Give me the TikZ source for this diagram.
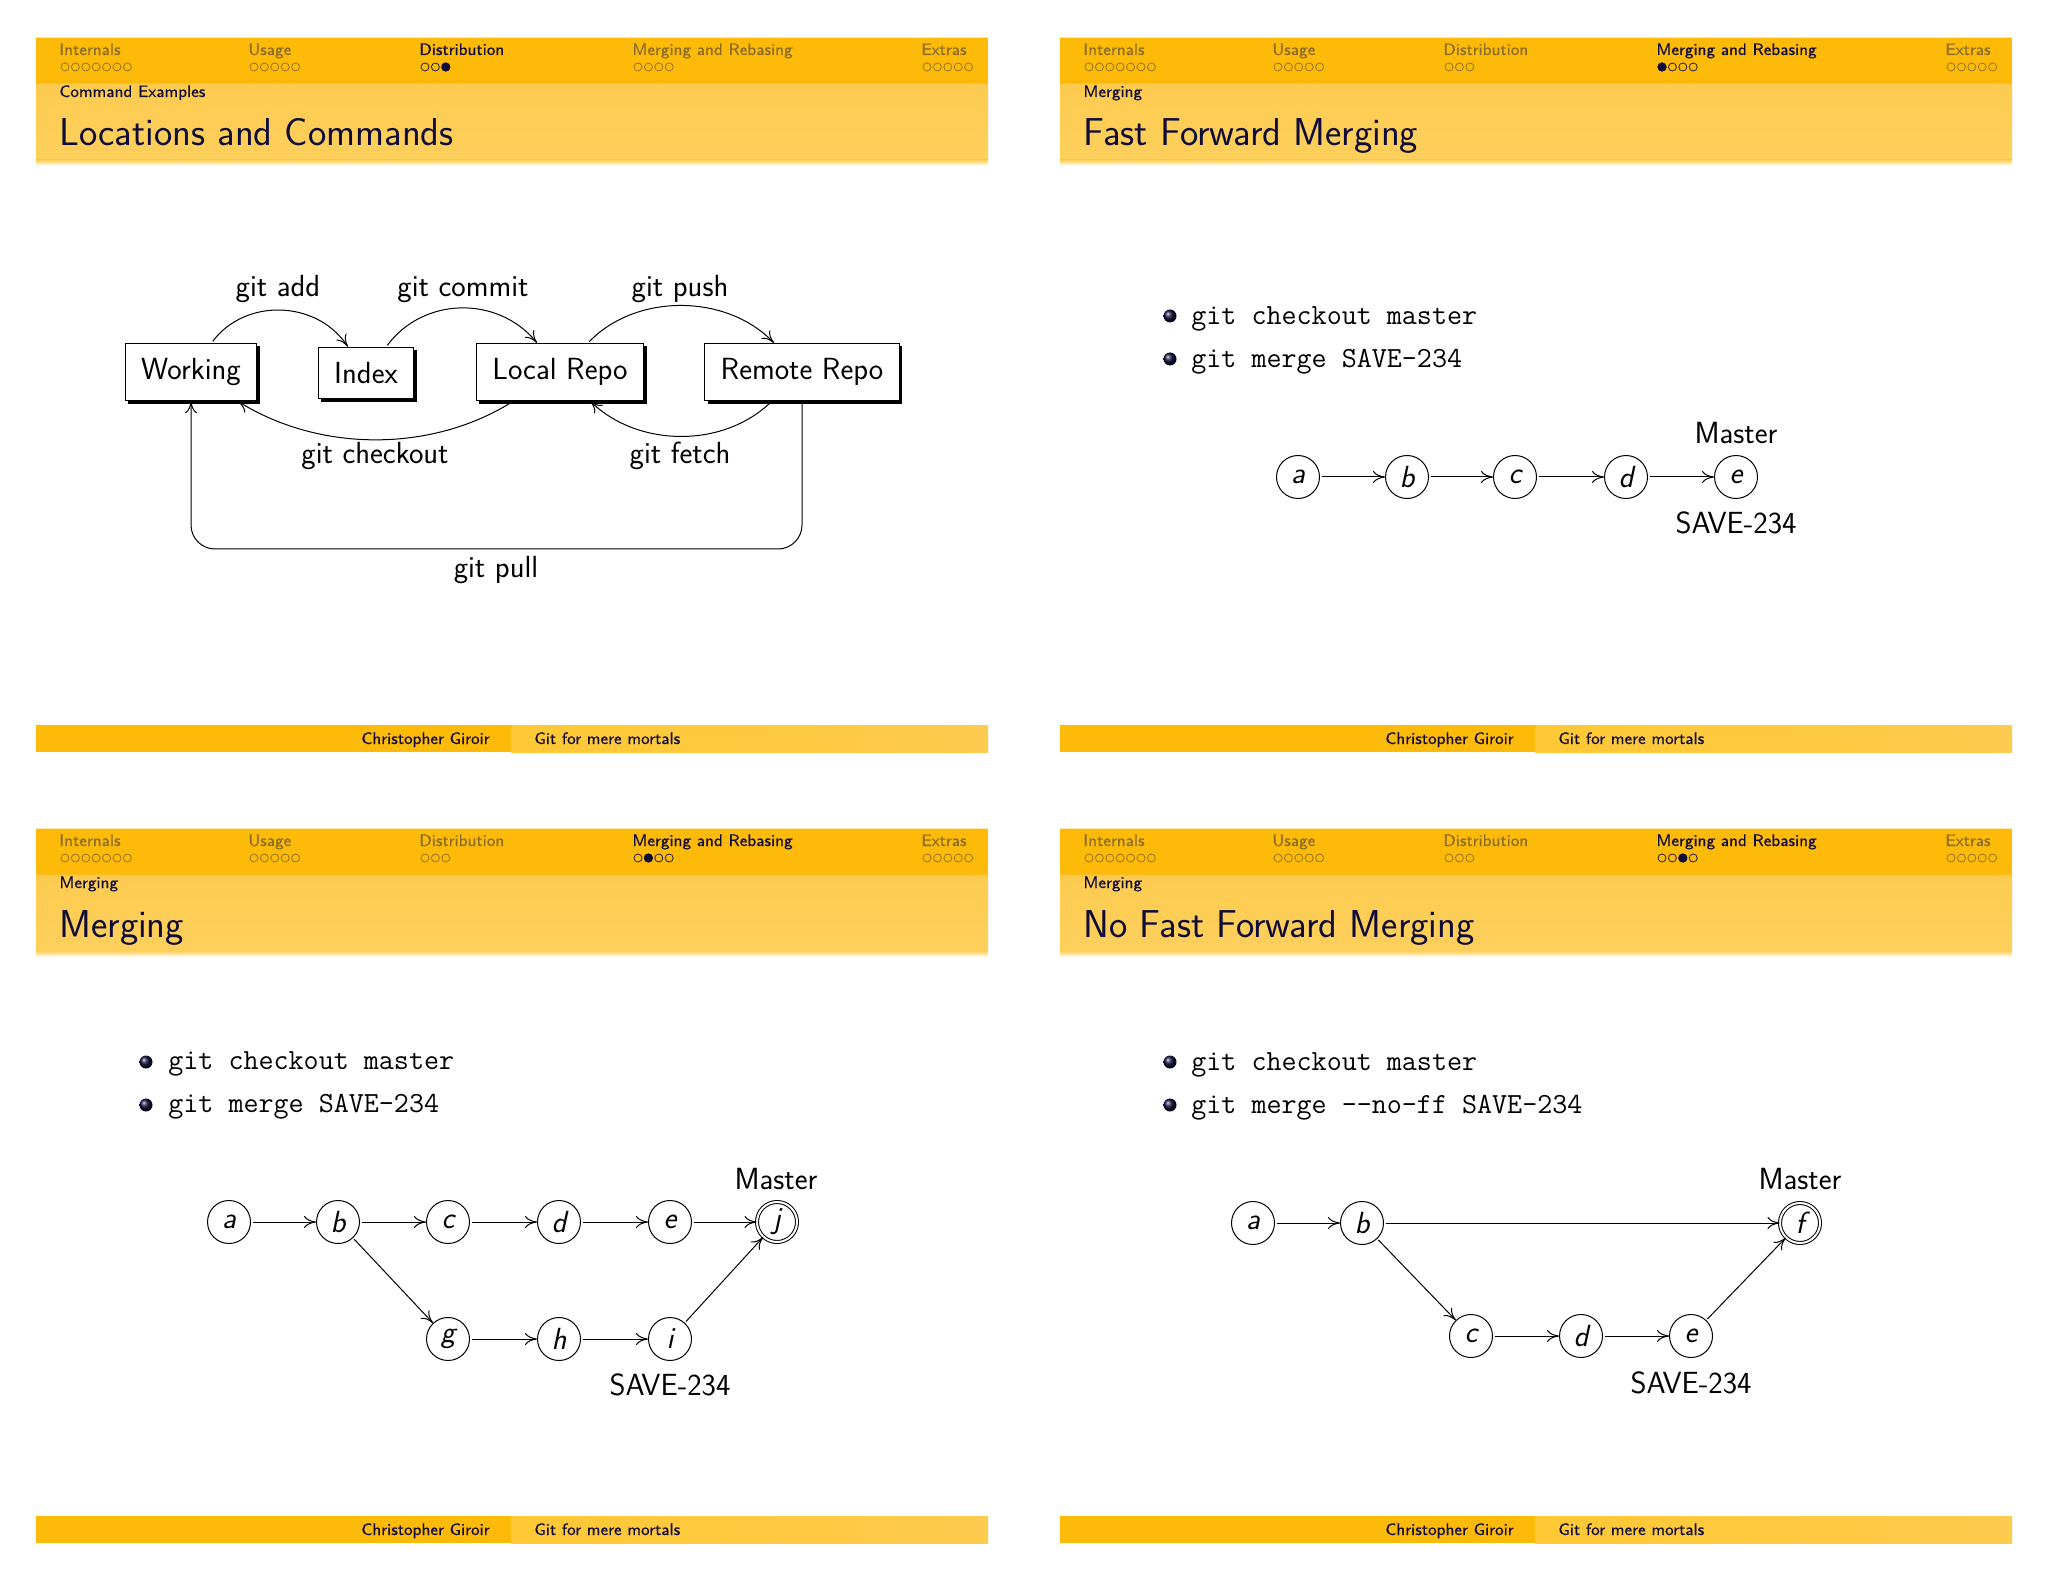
\documentclass[tikz,border=0pt]{standalone}
\usepackage{fontspec}
\usepackage{tikz}
\usetikzlibrary{shadows,arrows.meta}

\setsansfont{Latin Modern Sans}
\setmonofont{Latin Modern Mono}
\newfontfamily\headfont[FakeBold=0.2]{Latin Modern Sans}

\definecolor{bardark}{RGB}{253,186,8}
\definecolor{barmid}{RGB}{253,203,80}
\definecolor{barlight}{RGB}{253,208,92}
\definecolor{footlight}{RGB}{255,200,52}
\definecolor{framenavy}{RGB}{15,12,58}
\definecolor{fadedtext}{RGB}{138,110,40}

\tikzset{
  >={Computer Modern Rightarrow[length=6pt, width=6pt]},
  headtext/.style = {anchor=base west, inner sep=0pt, xscale=0.975, transform shape, font=\fontsize{8.3}{10}\headfont\selectfont},
  titletext/.style = {anchor=base west, inner sep=0pt, text=framenavy, font=\fontsize{19.45}{22}\sffamily\selectfont},
  biglabel/.style = {anchor=base, inner sep=0pt, font=\fontsize{15.3}{18}\sffamily\selectfont},
  location/.style = {draw, fill=white, inner xsep=8pt, inner ysep=7.5pt, line width=0.6pt, font=\fontsize{15.3}{18}\sffamily\selectfont,
    drop shadow={shadow xshift=1.5pt, shadow yshift=-1.5pt, opacity=1, fill=black}},
  commit/.style = {draw, circle, minimum size=21.5pt, inner sep=0pt, line width=0.5pt, font=\fontsize{15.3}{18}\sffamily\slshape\selectfont},
  mergecommit/.style = {commit, double, double distance=1pt, minimum size=20pt},
  command/.style = {anchor=base west, inner sep=0pt, font=\fontsize{14.6}{17}\ttfamily\selectfont},
  bulletball/.style = {circle, minimum size=6.5pt, inner sep=0pt, ball color=framenavy},
  flow/.style = {->, line width=0.5pt, shorten <=0.8pt}
}

% prefix, x shift, y shift, active section, active dot, subsection, title
\newcommand{\slideframe}[7]{
  \begin{scope}[shift={(#2,#3)}, name prefix=#1]
    \shade[top color=white, bottom color=barlight] (36,36) rectangle (988,38);
    \fill[bardark] (36,38) rectangle (988,82);
    \shade[top color=bardark, bottom color=barmid] (36,82) rectangle (988,85);
    \shade[top color=barmid, bottom color=barlight] (36,85) rectangle (988,160);
    \shade[top color=barlight, bottom color=white] (36,160) rectangle (988,166);
    \foreach \secx/\secname/\secdots [count=\secno] in {59/Internals/7,248/Usage/5,419/Distribution/3,632/{Merging and Rebasing}/4,921/Extras/5} {
      \ifnum\secno=#4 \def\seccol{framenavy}\else\def\seccol{fadedtext}\fi
      \node[headtext, text=\seccol] (sec\secno) at (\secx,55) {\secname};
      \foreach \dotno in {1,...,\secdots} {
        \draw[\seccol, line width=0.35pt] ({\secx+6+10.4*(\dotno-1)},67) circle (2pt);
        \ifnum\secno=#4 \ifnum\dotno=#5
          \fill[framenavy] ({\secx+6+10.4*(\dotno-1)},67) circle (2.3pt);
        \fi\fi
      }
    }
    \node[headtext, text=framenavy] (subsection) at (59,97) {#6};
    \node[titletext] (title) at (59,146) {#7};
    \fill[bardark] (36,725) rectangle (511,752);
    \shade[left color=footlight, right color=barmid!90!footlight] (511,725) rectangle (988,752);
    \node[headtext, anchor=base east, text=framenavy] (author) at (490,744) {Christopher Giroir};
    \node[headtext, text=framenavy] (talk) at (534,744) {Git for mere mortals};
  \end{scope}
}

\begin{document}
\begin{tikzpicture}[x=0.5pt, y=-0.5pt]
\useasboundingbox (0,0) rectangle (2048,1582);
\fill[white] (0,0) rectangle (2048,1582);

\slideframe{one-}{0}{0}{3}{3}{Command Examples}{Locations and Commands}
\slideframe{two-}{1024}{0}{4}{1}{Merging}{Fast Forward Merging}
\slideframe{three-}{0}{791}{4}{2}{Merging}{Merging}
\slideframe{four-}{1024}{791}{4}{3}{Merging}{No Fast Forward Merging}

\node[location] (working) at (191,372) {Working};
\node[location] (index) at (366,373) {Index};
\node[location] (local) at (560,372) {Local Repo};
\node[location] (remote) at (802,372) {Remote Repo};
\draw[flow] (working) to[bend left=55, looseness=1.05] (index);
\draw[flow] (index) to[bend left=52, looseness=1.05] (local);
\draw[flow] (local) to[bend left=46, looseness=0.95] (remote);
\draw[flow] (remote) to[bend left=44, looseness=0.95] (local);
\draw[flow] (local) to[bend left=32, looseness=0.9] (working);
\coordinate (pullright) at (802,549);
\coordinate (pullleft) at (191,549);
\draw[flow, rounded corners=12pt] (remote.south -| pullright) -- (pullright) -- (pullleft) -- (working.south -| pullleft);
\node[biglabel] (add) at (278,297) {git add};
\node[biglabel] (gitcommit) at (463,297) {git commit};
\node[biglabel] (push) at (680,297) {git push};
\node[biglabel] (checkout) at (375,464) {git checkout};
\node[biglabel] (fetch) at (680,464) {git fetch};
\node[biglabel] (pull) at (496,577) {git pull};

% fast forward
\begin{scope}[shift={(1024,0)}, name prefix=ff-]
  \node[bulletball] (ball1) at (146,316) {};
  \node[bulletball] (ball2) at (146,359) {};
  \node[command] (cmd1) at (167,325) {git checkout master};
  \node[command] (cmd2) at (167,368) {git merge SAVE-234};
  \foreach \nm/\nx in {a/274,b/383,c/491,d/602,e/712}
    \node[commit] (\nm) at (\nx,477) {\nm};
  \foreach \from/\to in {a/b,b/c,c/d,d/e}
    \draw[flow] (\from) -- (\to);
  \node[biglabel] (master) at (712,444) {Master};
  \node[biglabel] (save) at (712,534) {SAVE-234};
\end{scope}

% merge
\begin{scope}[name prefix=mg-]
  \node[bulletball] (ball1) at (146,1062) {};
  \node[bulletball] (ball2) at (146,1105) {};
  \node[command] (cmd1) at (168,1069) {git checkout master};
  \node[command] (cmd2) at (168,1112) {git merge SAVE-234};
  \foreach \nm/\nx/\ny in {a/229/1222,b/338/1222,c/448/1222,d/559/1222,e/670/1222,g/448/1339,h/559/1339,i/670/1339}
    \node[commit] (\nm) at (\nx,\ny) {\nm};
  \node[mergecommit] (j) at (777,1222) {j};
  \foreach \from/\to in {a/b,b/c,c/d,d/e,e/j,b/g,g/h,h/i,i/j}
    \draw[flow] (\from) -- (\to);
  \node[biglabel] (master) at (776,1189) {Master};
  \node[biglabel] (save) at (670,1395) {SAVE-234};
\end{scope}

% no fast forward
\begin{scope}[shift={(1024,0)}, name prefix=nf-]
  \node[bulletball] (ball1) at (146,1062) {};
  \node[bulletball] (ball2) at (146,1105) {};
  \node[command] (cmd1) at (167,1070) {git checkout master};
  \node[command] (cmd2) at (167,1113) {git merge -{}-no-ff SAVE-234};
  \foreach \nm/\nx/\ny in {a/229/1223,b/338/1223,c/447/1336,d/557/1336,e/667/1336}
    \node[commit] (\nm) at (\nx,\ny) {\nm};
  \node[mergecommit] (f) at (776,1223) {f};
  \foreach \from/\to in {a/b,b/f,b/c,c/d,d/e,e/f}
    \draw[flow] (\from) -- (\to);
  \node[biglabel] (master) at (776,1189) {Master};
  \node[biglabel] (save) at (667,1393) {SAVE-234};
\end{scope}
\end{tikzpicture}
\end{document}
